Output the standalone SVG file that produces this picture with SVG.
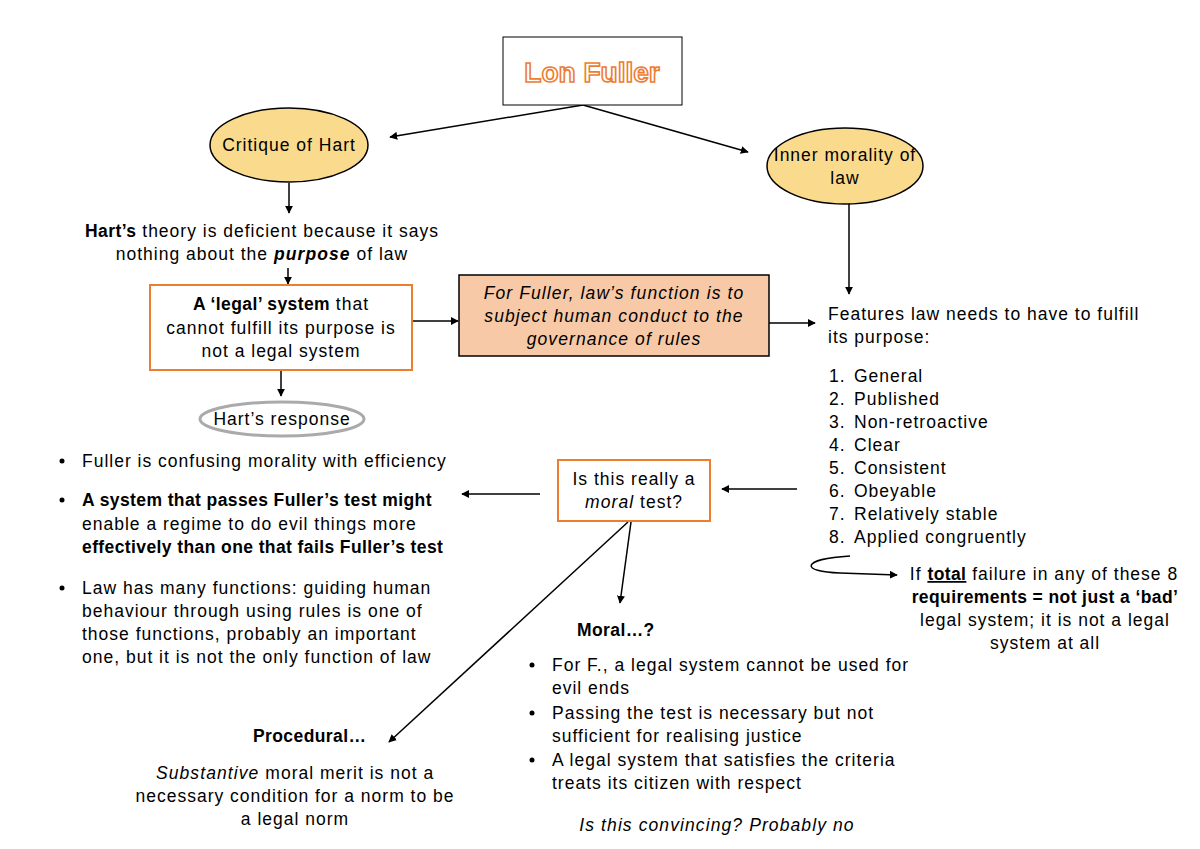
<svg xmlns="http://www.w3.org/2000/svg" width="1200" height="849" viewBox="0 0 1200 849">
<style>
text{font-family:"Liberation Sans",Arial,sans-serif;font-size:17.5px;letter-spacing:1px;fill:#000}
.c{text-anchor:middle}
.b{font-weight:bold;letter-spacing:0.4px}
.i{font-style:italic;letter-spacing:1.1px}
.ln{stroke:#000;stroke-width:1.5;fill:none}
</style>
<defs>
<marker id="ah" viewBox="0 0 10 10" refX="9" refY="5" markerWidth="8" markerHeight="8" markerUnits="userSpaceOnUse" orient="auto">
<path d="M0,0 L10,5 L0,10 z" fill="#000"/>
</marker>
</defs>
<rect width="1200" height="849" fill="#fff"/>

<g id="connectors">
<line class="ln" x1="583" y1="105" x2="390" y2="137" marker-end="url(#ah)"/>
<line class="ln" x1="583" y1="105" x2="748" y2="152" marker-end="url(#ah)"/>
<line class="ln" x1="289" y1="183" x2="289" y2="213" marker-end="url(#ah)"/>
<line class="ln" x1="288" y1="268" x2="288" y2="284" marker-end="url(#ah)"/>
<line class="ln" x1="281" y1="370" x2="281" y2="396" marker-end="url(#ah)"/>
<line class="ln" x1="412" y1="321" x2="458" y2="321" marker-end="url(#ah)"/>
<line class="ln" x1="769" y1="323" x2="815" y2="323" marker-end="url(#ah)"/>
<line class="ln" x1="849" y1="203" x2="849" y2="294" marker-end="url(#ah)"/>
<line class="ln" x1="797" y1="489" x2="722" y2="489" marker-end="url(#ah)"/>
<line class="ln" x1="540" y1="494" x2="462" y2="494" marker-end="url(#ah)"/>
<line class="ln" x1="628" y1="522" x2="389" y2="742" marker-end="url(#ah)"/>
<line class="ln" x1="631" y1="522" x2="620" y2="603" marker-end="url(#ah)"/>
<path class="ln" d="M850 556 C 800 559, 800 572, 840 573 L 897 575" marker-end="url(#ah)"/>
</g>

<g id="lon-fuller">
<rect x="503" y="37" width="179" height="68" fill="#fff" stroke="#000" stroke-width="1"/>
<text x="592" y="82" class="c b" style="font-size:28px;letter-spacing:0;fill:#fff;stroke:#ED7D31;stroke-width:1.6">Lon Fuller</text>
</g>

<g id="critique">
<ellipse cx="289" cy="145" rx="79" ry="37" fill="#FADA8C" stroke="#000" stroke-width="1.5"/>
<text x="289" y="151" class="c">Critique of Hart</text>
</g>

<g id="inner">
<ellipse cx="845" cy="166" rx="78" ry="38" fill="#FADA8C" stroke="#000" stroke-width="1.5"/>
<text x="845" y="161" class="c">Inner morality of</text>
<text x="845" y="184" class="c">law</text>
</g>

<g id="hart-theory">
<text x="262" y="237" class="c"><tspan class="b">Hart’s</tspan> theory is deficient because it says</text>
<text x="262" y="260" class="c">nothing about the <tspan class="b i">purpose</tspan> of law</text>
</g>

<g id="legal-system">
<rect x="150" y="285" width="262" height="85" fill="#fff" stroke="#ED7D31" stroke-width="2"/>
<text x="281" y="310" class="c"><tspan class="b">A ‘legal’ system</tspan> that</text>
<text x="281" y="334" class="c">cannot fulfill its purpose is</text>
<text x="281" y="357" class="c">not a legal system</text>
</g>

<g id="hart-response">
<ellipse cx="282" cy="419" rx="82" ry="17" fill="#fff" stroke="#AAAAAA" stroke-width="3"/>
<text x="282" y="425" class="c">Hart’s response</text>
</g>

<g id="function">
<rect x="459" y="275" width="310" height="81" fill="#F8C9A6" stroke="#000" stroke-width="1.5"/>
<text x="614" y="299" class="c i">For Fuller, law’s function is to</text>
<text x="614" y="322" class="c i">subject human conduct to the</text>
<text x="614" y="345" class="c i">governance of rules</text>
</g>

<g id="features">
<text x="828" y="320">Features law needs to have to fulfill</text>
<text x="828" y="343">its purpose:</text>
<text x="829" y="382">1.</text><text x="854" y="382">General</text>
<text x="829" y="405">2.</text><text x="854" y="405">Published</text>
<text x="829" y="428">3.</text><text x="854" y="428">Non-retroactive</text>
<text x="829" y="451">4.</text><text x="854" y="451">Clear</text>
<text x="829" y="474">5.</text><text x="854" y="474">Consistent</text>
<text x="829" y="497">6.</text><text x="854" y="497">Obeyable</text>
<text x="829" y="520">7.</text><text x="854" y="520">Relatively stable</text>
<text x="829" y="543">8.</text><text x="854" y="543">Applied congruently</text>
</g>

<g id="total-failure">
<text x="1044" y="580" class="c">If <tspan class="b" text-decoration="underline">total</tspan> failure in any of these 8</text>
<text x="1045" y="603" class="c b">requirements = not just a ‘bad’</text>
<text x="1045" y="626" class="c">legal system; it is not a legal</text>
<text x="1045" y="649" class="c">system at all</text>
</g>

<g id="moral-test">
<rect x="558" y="460" width="152" height="61" fill="#fff" stroke="#ED7D31" stroke-width="2"/>
<text x="634" y="485" class="c">Is this really a</text>
<text x="634" y="508" class="c"><tspan class="i">moral</tspan> test?</text>
</g>

<g id="hart-points">
<circle cx="62" cy="461" r="2.5" fill="#000"/>
<text x="82" y="467">Fuller is confusing morality with efficiency</text>
<circle cx="62" cy="500" r="2.5" fill="#000"/>
<text x="82" y="506" class="b">A system that passes Fuller’s test might</text>
<text x="82" y="530">enable a regime to do evil things more</text>
<text x="82" y="553" class="b">effectively than one that fails Fuller’s test</text>
<circle cx="62" cy="588" r="2.5" fill="#000"/>
<text x="82" y="594">Law has many functions: guiding human</text>
<text x="82" y="617">behaviour through using rules is one of</text>
<text x="82" y="640">those functions, probably an important</text>
<text x="82" y="663">one, but it is not the only function of law</text>
</g>

<g id="moral">
<text x="577" y="636" class="b">Moral…?</text>
<circle cx="532" cy="665" r="2.5" fill="#000"/>
<text x="552" y="671">For F., a legal system cannot be used for</text>
<text x="552" y="694">evil ends</text>
<circle cx="532" cy="713" r="2.5" fill="#000"/>
<text x="552" y="719">Passing the test is necessary but not</text>
<text x="552" y="742">sufficient for realising justice</text>
<circle cx="532" cy="760" r="2.5" fill="#000"/>
<text x="552" y="766">A legal system that satisfies the criteria</text>
<text x="552" y="789">treats its citizen with respect</text>
<text x="717" y="831" class="c i">Is this convincing? Probably no</text>
</g>

<g id="procedural">
<text x="253" y="742" class="b">Procedural…</text>
<text x="295" y="779" class="c"><tspan class="i">Substantive</tspan> moral merit is not a</text>
<text x="295" y="802" class="c">necessary condition for a norm to be</text>
<text x="295" y="825" class="c">a legal norm</text>
</g>
</svg>
